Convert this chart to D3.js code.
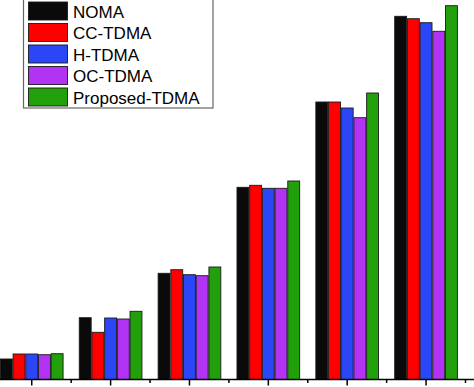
<!DOCTYPE html>
<html>
<head>
<meta charset="utf-8">
<script src="https://cdn.jsdelivr.net/npm/d3@7"></script>
<style>
  html, body { margin: 0; padding: 0; background: #fff; }
  svg { display: block; }
</style>
</head>
<body>
<svg id="chart" width="474" height="387"></svg>
<script>
const categories = ["1", "2", "3", "4", "5", "6"];
const seriesNames = ["NOMA", "CC-TDMA", "H-TDMA", "OC-TDMA", "Proposed-TDMA"];
const seriesColors = ["#0a0a0a", "#ff0000", "#2a46f6", "#b233f3", "#21a00c"];
const NOMA     = [2.05, 6.18, 10.62, 19.22, 27.75, 36.32];
const CC_TDMA  = [2.55, 4.72, 10.98, 19.42, 27.75, 36.08];
const H_TDMA   = [2.55, 6.15, 10.48, 19.12, 27.15, 35.68];
const OC_TDMA  = [2.48, 6.05, 10.38, 19.12, 26.18, 34.82];
const Proposed = [2.58, 6.82, 11.25, 19.85, 28.65, 37.38];
const seriesValues = [NOMA, CC_TDMA, H_TDMA, OC_TDMA, Proposed];

const W = 474, H = 387;
const baseY = 379.5;
const svg = d3.select("#chart");

const x0 = d3.scaleBand().domain(categories).range([0, 457.8]).paddingInner(0.195).paddingOuter(0);
const x1 = d3.scaleBand().domain(seriesNames).range([0, x0.bandwidth()]).padding(0);
const y = d3.scaleLinear().domain([0, 40]).range([baseY, baseY - 400]);

const groups = svg.append("g").selectAll("g")
  .data(categories).join("g")
  .attr("transform", d => `translate(${x0(d)},0)`);

groups.selectAll("rect")
  .data((c, ci) => seriesNames.map((s, si) => ({ s, si, v: seriesValues[si][ci] })))
  .join("rect")
  .attr("x", d => x1(d.s) + 0.4)
  .attr("width", x1.bandwidth() - 0.8)
  .attr("y", d => y(d.v))
  .attr("height", d => baseY - y(d.v))
  .attr("fill", d => seriesColors[d.si])
  .attr("stroke", "#1a1a1a")
  .attr("stroke-width", 0.9);

// x axis
const axis = d3.axisBottom(x0).tickSize(6).tickFormat(() => "").tickSizeOuter(0);
const ax = svg.append("g").attr("transform", `translate(0,${baseY})`).call(axis);
ax.select(".domain").remove();
ax.selectAll(".tick line").attr("stroke", "#000").attr("stroke-width", 1.5);
svg.append("line").attr("x1", 0).attr("x2", W).attr("y1", baseY).attr("y2", baseY)
  .attr("stroke", "#000").attr("stroke-width", 1.5);
// minor ticks at group boundaries
const step = x0.step();
const bounds = categories.map(c => x0(c) + x0.bandwidth() + (step - x0.bandwidth()) / 2);
svg.append("g").selectAll("line").data(bounds).join("line")
  .attr("x1", d => d).attr("x2", d => d)
  .attr("y1", baseY).attr("y2", baseY + 3.5)
  .attr("stroke", "#000").attr("stroke-width", 1.5);

// legend
const lg = svg.append("g");
lg.append("rect").attr("x", 23.5).attr("y", -3).attr("width", 189.5).attr("height", 111)
  .attr("fill", "#fff").attr("stroke", "#666").attr("stroke-width", 1.2);
seriesNames.forEach((s, i) => {
  const yy = 2 + i * 21.5;
  lg.append("rect").attr("x", 28.5).attr("y", yy).attr("width", 39).attr("height", 18)
    .attr("fill", seriesColors[i]).attr("stroke", "#1a1a1a").attr("stroke-width", 0.9);
  lg.append("text").attr("x", 73).attr("y", yy + 15.5)
    .attr("font-family", "Liberation Sans, Arial, sans-serif")
    .attr("font-size", 17).attr("fill", "#000").text(s);
});
</script>
</body>
</html>
